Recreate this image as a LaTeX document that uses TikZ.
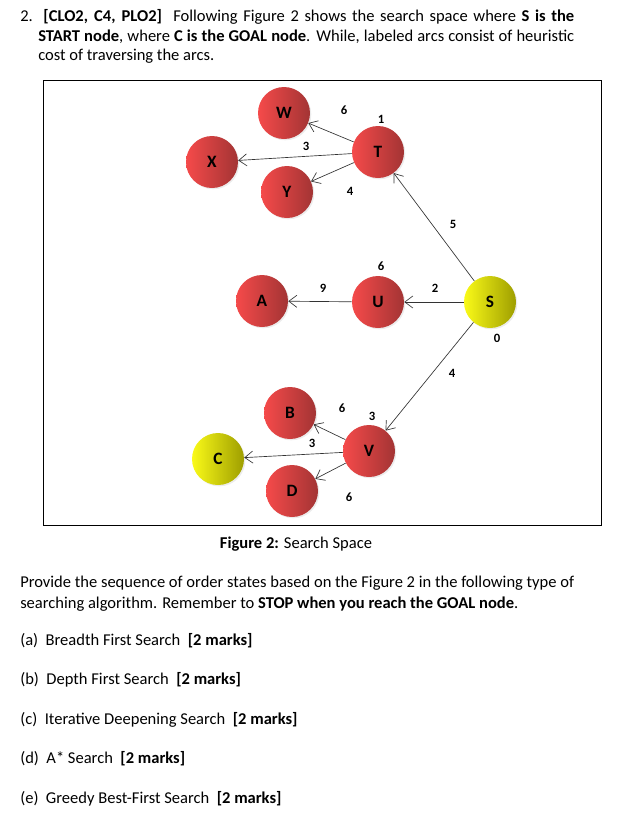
\documentclass[tikz,border=0pt]{standalone}
\usepackage{fontspec}
\setmainfont{Carlito}
\usetikzlibrary{arrows.meta,shadows}
\definecolor{rl}{HTML}{F54A4A}\definecolor{rd}{HTML}{A33434}
\definecolor{yl}{HTML}{FAFA18}\definecolor{yd}{HTML}{9E9E00}
\begin{document}
\begin{tikzpicture}[x=0.75pt,y=-0.75pt,
  txt/.style={anchor=west,inner sep=0,font=\fontsize{12.4}{14}\selectfont},
  nd/.style={circle,minimum size=39pt,inner sep=0,font=\fontsize{13}{14}\selectfont\bfseries,left color=rl,right color=rd,drop shadow={opacity=0.15,shadow xshift=1pt,shadow yshift=-1pt}},
  gl/.style={nd,left color=yl,right color=yd},
  ed/.style={-{Straight Barb[length=6pt,width=9pt]},line width=0.5pt,draw=black!80},
  lb/.style={font=\fontsize{9.5}{10}\selectfont\bfseries,inner sep=0}]
\useasboundingbox (0,0) rectangle (639,826);
\node[txt] (l1) at (20,17) {\hbox to 415.5pt{2. \textbf{[CLO2, C4, PLO2]}\ \ Following Figure 2 shows the search space where \textbf{S is the}}};
\node[txt] (l2) at (38,37) {\hbox to 402pt{\textbf{START node}, where \textbf{C is the GOAL node}. While, labeled arcs consist of heuristic}};
\node[txt] (l3) at (38,56) {cost of traversing the arcs.};
\draw[line width=0.6pt] (43,80) rectangle (601,525);
\node[nd] (W) at (284,113) {W};
\node[nd] (X) at (212,162) {X};
\node[nd] (Y) at (287,192) {Y};
\node[nd] (T) at (378,152) {T};
\node[nd] (A) at (262,301) {A};
\node[nd] (U) at (378,302) {U};
\node[gl] (S) at (490,302) {S};
\node[nd] (B) at (290,413) {B};
\node[gl] (C) at (218,459) {C};
\node[nd] (V) at (369,451) {V};
\node[nd] (D) at (292,491) {D};
\draw[ed] (T) -- (W); \draw[ed] (T) -- (X); \draw[ed] (T) -- (Y);
\draw[ed] (S) -- (T); \draw[ed] (S) -- (U); \draw[ed] (U) -- (A); \draw[ed] (S) -- (V);
\draw[ed] (V) -- (B); \draw[ed] (V) -- (C); \draw[ed] (V) -- (D);
\node[lb] (n1) at (344,110) {6}; \node[lb] (n2) at (381,119) {1};
\node[lb] (n3) at (306,146) {3}; \node[lb] (n4) at (350,191) {4};
\node[lb] (n5) at (453,224) {5}; \node[lb] (n6) at (381,266) {6};
\node[lb] (n7) at (323,288) {9}; \node[lb] (n8) at (435,288) {2};
\node[lb] (n9) at (497,338) {0}; \node[lb] (n10) at (452,373) {4};
\node[lb] (n11) at (342,408) {6}; \node[lb] (n12) at (372,416) {3};
\node[lb] (n13) at (312,443) {3}; \node[lb] (n14) at (349,497) {6};
\node[txt,anchor=center] (cap) at (296,544) {\textbf{Figure 2:} Search Space};
\node[txt] (p1) at (20,583) {Provide the sequence of order states based on the Figure 2 in the following type of};
\node[txt] (p2) at (20,604) {searching algorithm. Remember to \textbf{STOP when you reach the GOAL node}.};
\node[txt] (qa) at (20,641) {(a)\ \ Breadth First Search\ \ \textbf{[2 marks]}};
\node[txt] (qb) at (20,680) {(b)\ \ Depth First Search\ \ \textbf{[2 marks]}};
\node[txt] (qc) at (20,720) {(c)\ \ Iterative Deepening Search\ \ \textbf{[2 marks]}};
\node[txt] (qd) at (20,759) {(d)\ \ A* Search\ \ \textbf{[2 marks]}};
\node[txt] (qe) at (20,799) {(e)\ \ Greedy Best-First Search\ \ \textbf{[2 marks]}};
\end{tikzpicture}
\end{document}
